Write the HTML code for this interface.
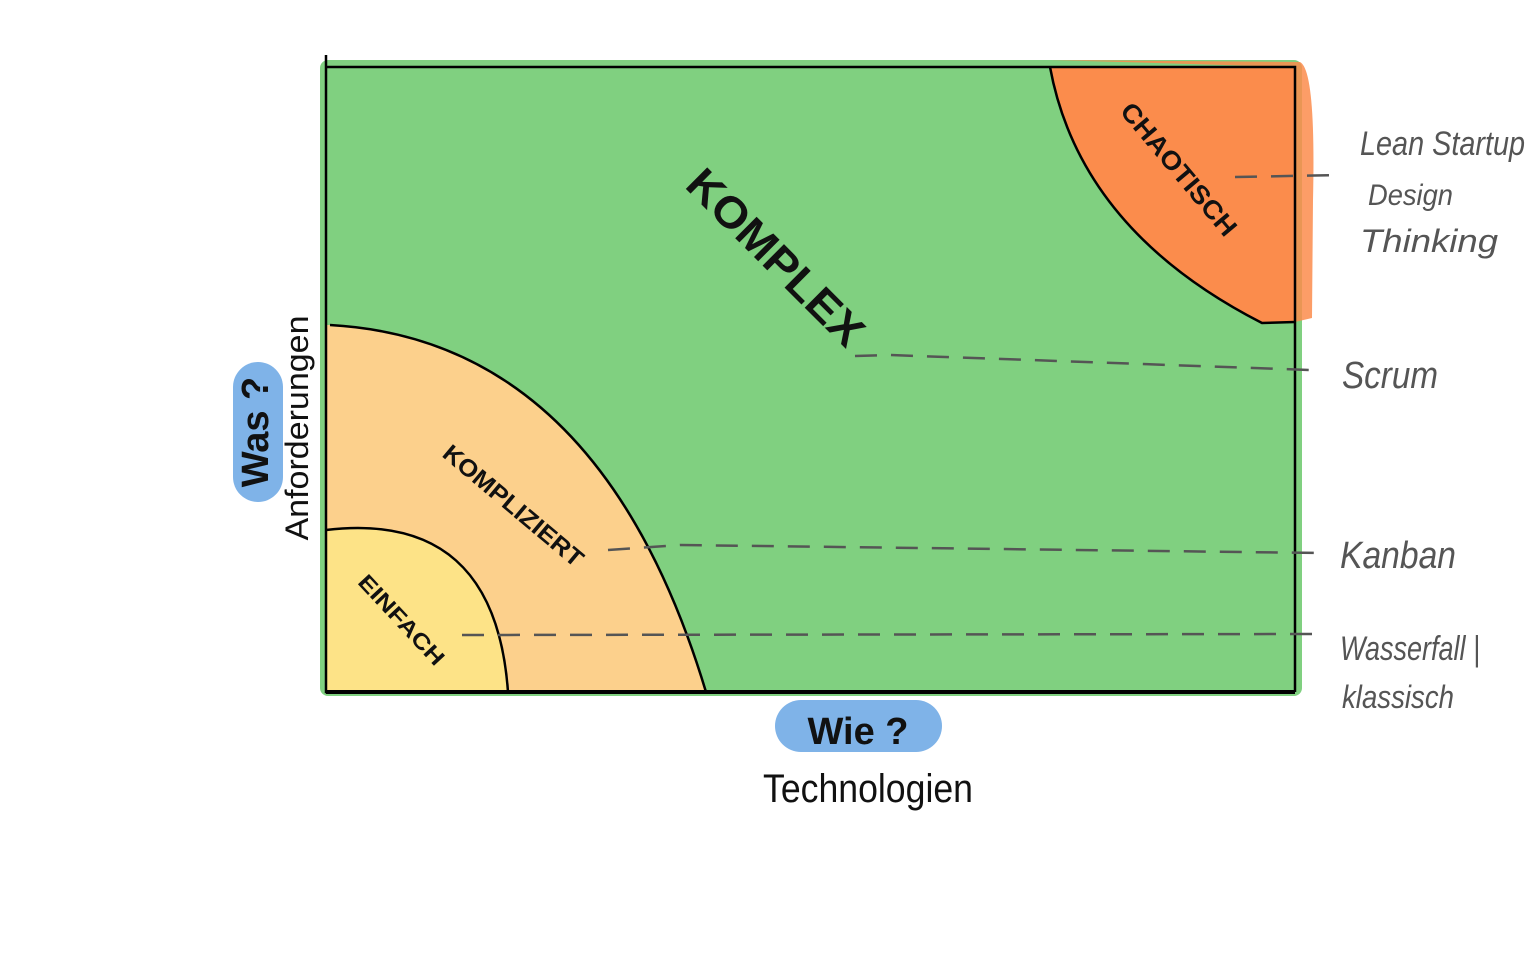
<!DOCTYPE html>
<html><head><meta charset="utf-8"><style>
body{margin:0;background:#fff;width:1536px;height:960px;overflow:hidden}
svg text{font-family:"Liberation Sans",sans-serif}
</style></head><body>
<svg width="1536" height="960" viewBox="0 0 1536 960" xmlns="http://www.w3.org/2000/svg">
<rect x="320" y="60" width="982" height="636" fill="#80d080" rx="8"/>
<rect x="326" y="67" width="969" height="625" fill="#80d080"/>
<!-- orange chaotisch -->
<path d="M1050 67 Q1080 230 1262 323 L1295 322 L1295 67 Z" fill="#fb8c4c"/>
<path d="M1050 60 L1300 62 Q1316 70 1313 200 L1312 318 L1295 322 L1295 67 Z" fill="#fb8c4c" opacity="0.85"/>
<path d="M1050 67 Q1080 230 1262 323 L1295 322" fill="none" stroke="#000" stroke-width="2.5"/>
<!-- kompliziert -->
<path d="M330 325 Q600 340 706 692 L326 692 L326 325 Z" fill="#fcd08c"/>
<path d="M330 325 Q600 340 706 692" fill="none" stroke="#000" stroke-width="2.5"/>
<!-- einfach -->
<path d="M326 530 Q495 510 508 692 L326 692 Z" fill="#fde387"/>
<path d="M326 530 Q495 510 508 692" fill="none" stroke="#000" stroke-width="2.5"/>
<!-- frame -->
<path d="M326 67 L1295 67 L1295 692 M326 55 L326 692 L1295 692" fill="none" stroke="#000" stroke-width="2.5"/>
<path d="M326 692 L1295 692" stroke="#000" stroke-width="4"/>
<!-- dashed lines -->
<g stroke="#555" stroke-width="2.5" stroke-dasharray="22 14" fill="none">
<path d="M1235 177 L1340 175"/>
<path d="M855 356 L890 355 L1310 370"/>
<path d="M608 550 L680 545 L1320 553"/>
<path d="M462 635 L1320 634"/>
</g>
<!-- labels -->
<text transform="translate(765 268) rotate(45)" text-anchor="middle" font-size="44" font-weight="bold" fill="#111" textLength="230" lengthAdjust="spacingAndGlyphs">KOMPLEX</text>
<text transform="translate(1172 175) rotate(50)" text-anchor="middle" font-size="26" font-weight="bold" fill="#111" textLength="165" lengthAdjust="spacingAndGlyphs">CHAOTISCH</text>
<text transform="translate(508 512) rotate(40)" text-anchor="middle" font-size="24" font-weight="bold" fill="#111" textLength="175" lengthAdjust="spacingAndGlyphs">KOMPLIZIERT</text>
<text transform="translate(396 625) rotate(47)" text-anchor="middle" font-size="22" font-weight="bold" fill="#111" textLength="115" lengthAdjust="spacingAndGlyphs">EINFACH</text>
<!-- right labels -->
<g fill="#555" font-style="italic">
<text x="1360" y="155" font-size="34" textLength="165" lengthAdjust="spacingAndGlyphs">Lean Startup</text>
<text x="1368" y="205" font-size="30" textLength="85" lengthAdjust="spacingAndGlyphs">Design</text>
<text x="1360" y="252" font-size="32" textLength="138" lengthAdjust="spacingAndGlyphs">Thinking</text>
<text x="1342" y="388" font-size="38" textLength="96" lengthAdjust="spacingAndGlyphs">Scrum</text>
<text x="1340" y="568" font-size="38" textLength="116" lengthAdjust="spacingAndGlyphs">Kanban</text>
<text x="1340" y="660" font-size="34" textLength="140" lengthAdjust="spacingAndGlyphs">Wasserfall |</text>
<text x="1342" y="708" font-size="32" textLength="112" lengthAdjust="spacingAndGlyphs">klassisch</text>
</g>
<!-- axis labels -->
<rect x="233" y="362" width="50" height="140" rx="25" fill="#7fb3e8"/>
<text transform="translate(268 432) rotate(-90)" text-anchor="middle" font-size="38" font-weight="bold" fill="#111">Was ?</text>
<text transform="translate(308 428) rotate(-90)" text-anchor="middle" font-size="32" fill="#111" textLength="225" lengthAdjust="spacingAndGlyphs">Anforderungen</text>
<rect x="775" y="700" width="167" height="52" rx="26" fill="#7fb3e8"/>
<text x="858" y="744" text-anchor="middle" font-size="38" font-weight="bold" fill="#111">Wie ?</text>
<text x="868" y="802" text-anchor="middle" font-size="40" fill="#111" textLength="210" lengthAdjust="spacingAndGlyphs">Technologien</text>
</svg>
</body></html>
